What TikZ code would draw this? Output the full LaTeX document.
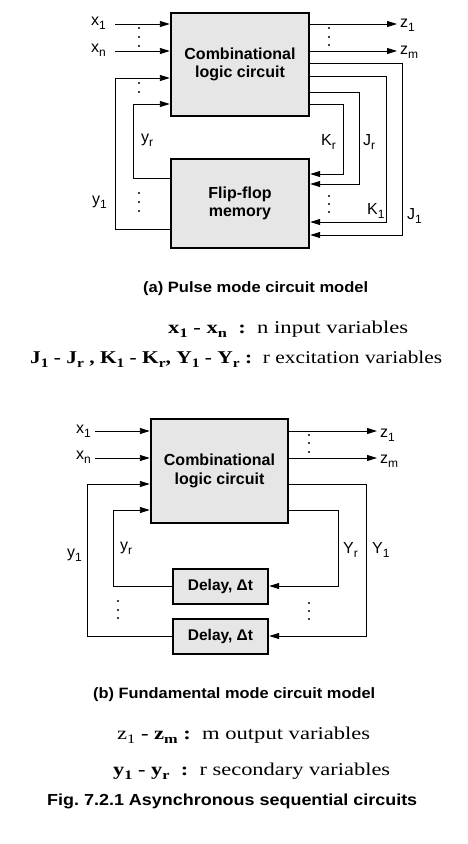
\documentclass[tikz,border=0pt]{standalone}
\usepackage{graphicx}
\usepackage{fontspec}
\setmainfont{Liberation Serif}
\setsansfont{Liberation Sans}
\newfontfamily\lsans{Liberation Sans}
\usetikzlibrary{arrows.meta}
\definecolor{boxgray}{HTML}{E6E6E6}
\newcommand{\sbs}[2]{#1\raisebox{-4pt}{\fontsize{12}{12}\selectfont #2}}
\newcommand{\sbr}[2]{#1\raisebox{-4.5pt}{\fontsize{13}{13}\selectfont #2}}
\newcommand{\fitw}[2]{\resizebox{#1}{\height}{#2}}
\tikzset{
  blockbox/.style={draw, line width=2.4pt, fill=boxgray, inner sep=0pt, align=center,
    font=\lsans\bfseries\fontsize{16}{18.5}\selectfont},
  wire/.style={line width=0.9pt},
  arr/.style={wire, -{Triangle[length=10pt,width=6pt]}},
  lab/.style={font=\lsans\fontsize{16}{16}\selectfont, inner sep=0pt},
  captext/.style={font=\lsans\bfseries\fontsize{15}{15}\selectfont, inner sep=0pt, anchor=base west},
  legtext/.style={font=\fontsize{18}{18}\selectfont, inner sep=0pt, anchor=base west},
  dotfill/.style={fill=black}
}
\begin{document}
\begin{tikzpicture}[x=1pt,y=-1pt]
\useasboundingbox (0,0) rectangle (468,844);

% ---------------- (a) ----------------
\node[blockbox, minimum width=138pt, minimum height=103pt] (comb1) at (240,64.5) {Combinational\\logic circuit};
\node[blockbox, minimum width=138pt, minimum height=89pt] (ff) at (240,203.5) {Flip-flop\\memory};

% inputs
\coordinate (ix1) at (115,24);
\coordinate (ixn) at (115,51);
\draw[arr] (ix1) -- (ix1 -| comb1.west);
\draw[arr] (ixn) -- (ixn -| comb1.west);
\node[lab, anchor=base east] (lx1) at (106,25) {\sbs{x}{1}};
\node[lab, anchor=base east] (lxn) at (106,52) {\sbs{x}{n}};

% outputs
\coordinate (oz1) at (397,24);
\coordinate (ozm) at (397,51);
\draw[arr] (oz1 -| comb1.east) -- (oz1);
\draw[arr] (ozm -| comb1.east) -- (ozm);
\node[lab, anchor=base west] (lz1) at (400,27) {\sbs{z}{1}};
\node[lab, anchor=base west] (lzm) at (400,54) {\sbs{z}{m}};

% excitation lines
\coordinate (j1t) at (402,63);  \coordinate (j1b) at (402,235);
\coordinate (k1t) at (386,76);  \coordinate (k1b) at (386,222);
\coordinate (jrt) at (359,92);  \coordinate (jrb) at (359,184);
\coordinate (krt) at (343,104); \coordinate (krb) at (343,174);
\draw[arr] (j1t -| comb1.east) -- (j1t) -- (j1b) -- (j1b -| ff.east);
\draw[arr] (k1t -| comb1.east) -- (k1t) -- (k1b) -- (k1b -| ff.east);
\draw[arr] (jrt -| comb1.east) -- (jrt) -- (jrb) -- (jrb -| ff.east);
\draw[arr] (krt -| comb1.east) -- (krt) -- (krb) -- (krb -| ff.east);
\node[lab, anchor=base west] (lkr) at (321,145) {\sbs{K}{r}};
\node[lab, anchor=base west] (ljr) at (363,145) {\sbs{J}{r}};
\node[lab, anchor=base west] (lk1) at (367,214) {\sbs{K}{1}};
\node[lab, anchor=base west] (lj1) at (407,219) {\sbs{J}{1}};

% secondary feedback
\coordinate (yrb) at (133,178); \coordinate (yrt) at (133,104);
\coordinate (y1b) at (115,229); \coordinate (y1t) at (115,78);
\draw[arr] (yrb -| ff.west) -- (yrb) -- (yrt) -- (yrt -| comb1.west);
\draw[arr] (y1b -| ff.west) -- (y1b) -- (y1t) -- (y1t -| comb1.west);
\node[lab, anchor=base west] (lyr) at (141,142) {\sbs{y}{r}};
\node[lab, anchor=base west] (ly1) at (92,204) {\sbs{y}{1}};

% dots
\foreach \y in {28,37,46} \fill[dotfill] (139,\y) circle (1.1pt);
\foreach \y in {83,92} \fill[dotfill] (139,\y) circle (1.1pt);
\foreach \y in {193,202,211} \fill[dotfill] (139,\y) circle (1.1pt);
\foreach \y in {28,37,45} \fill[dotfill] (329,\y) circle (1.1pt);
\foreach \y in {196,204,212} \fill[dotfill] (329,\y) circle (1.1pt);

\node[captext] (capa) at (143,292) {\fitw{225pt}{(a) Pulse mode circuit model}};
\node[legtext] (lega1) at (168,333) {\fitw{240pt}{{\bfseries \sbr{x}{1} - \sbr{x}{n}\ \ :}\ \ n input variables}};
\node[legtext] (lega2) at (30,363) {\fitw{412pt}{{\bfseries \sbr{J}{1} - \sbr{J}{r} , \sbr{K}{1} - \sbr{K}{r}, \sbr{Y}{1} - \sbr{Y}{r} :}\ \ r excitation variables}};

% ---------------- (b) ----------------
\node[blockbox, minimum width=137pt, minimum height=104pt] (comb2) at (219.5,471) {Combinational\\logic circuit};
\node[blockbox, font=\lsans\bfseries\fontsize{15.5}{17}\selectfont, minimum width=95pt, minimum height=35pt] (d1) at (220.5,586.5) {Delay, Δt};
\node[blockbox, font=\lsans\bfseries\fontsize{15.5}{17}\selectfont, minimum width=95pt, minimum height=35pt] (d2) at (220.5,636.5) {Delay, Δt};

\coordinate (bx1) at (95,431);
\coordinate (bxn) at (95,458);
\draw[arr] (bx1) -- (bx1 -| comb2.west);
\draw[arr] (bxn) -- (bxn -| comb2.west);
\node[lab, anchor=base east] (blx1) at (91,433) {\sbs{x}{1}};
\node[lab, anchor=base east] (blxn) at (91,459) {\sbs{x}{n}};

\coordinate (bz1) at (377,431);
\coordinate (bzm) at (377,458);
\draw[arr] (bz1 -| comb2.east) -- (bz1);
\draw[arr] (bzm -| comb2.east) -- (bzm);
\node[lab, anchor=base west] (blz1) at (380,437) {\sbs{z}{1}};
\node[lab, anchor=base west] (blzm) at (380,463) {\sbs{z}{m}};

\coordinate (Y1t) at (366,484); \coordinate (Y1b) at (366,636);
\coordinate (Yrt) at (338,510); \coordinate (Yrb) at (338,586);
\draw[arr] (Y1t -| comb2.east) -- (Y1t) -- (Y1b) -- (Y1b -| d2.east);
\draw[arr] (Yrt -| comb2.east) -- (Yrt) -- (Yrb) -- (Yrb -| d1.east);

\coordinate (byrb) at (113,586); \coordinate (byrt) at (113,510);
\coordinate (by1b) at (87,636);  \coordinate (by1t) at (87,484);
\draw[arr] (byrb -| d1.west) -- (byrb) -- (byrt) -- (byrt -| comb2.west);
\draw[arr] (by1b -| d2.west) -- (by1b) -- (by1t) -- (by1t -| comb2.west);

\node[lab, anchor=base west] (bly1) at (67,557) {\sbs{y}{1}};
\node[lab, anchor=base west] (blyr) at (120,550) {\sbs{y}{r}};
\node[lab, anchor=base west] (blYr) at (343,553) {\sbs{Y}{r}};
\node[lab, anchor=base west] (blY1) at (372,553) {\sbs{Y}{1}};

\foreach \y in {435,443,452} \fill[dotfill] (309,\y) circle (1.1pt);
\foreach \y in {601,610,618} \fill[dotfill] (118,\y) circle (1.1pt);
\foreach \y in {603,611,619} \fill[dotfill] (309,\y) circle (1.1pt);

\node[captext] (capb) at (93,698) {\fitw{282pt}{(b) Fundamental mode circuit model}};
\node[legtext] (legb1) at (117,739) {\fitw{253pt}{\sbr{z}{1} {\bfseries - \sbr{z}{m} :}\ \ m output variables}};
\node[legtext] (legb2) at (113,775) {\fitw{277pt}{{\bfseries \sbr{y}{1} - \sbr{y}{r}\ \ :}\ \ r secondary variables}};

\node[captext, font=\lsans\bfseries\fontsize{16}{16}\selectfont] (fig) at (47,805) {\fitw{370pt}{Fig.\ 7.2.1 Asynchronous\ sequential\ circuits}};
\end{tikzpicture}
\end{document}
